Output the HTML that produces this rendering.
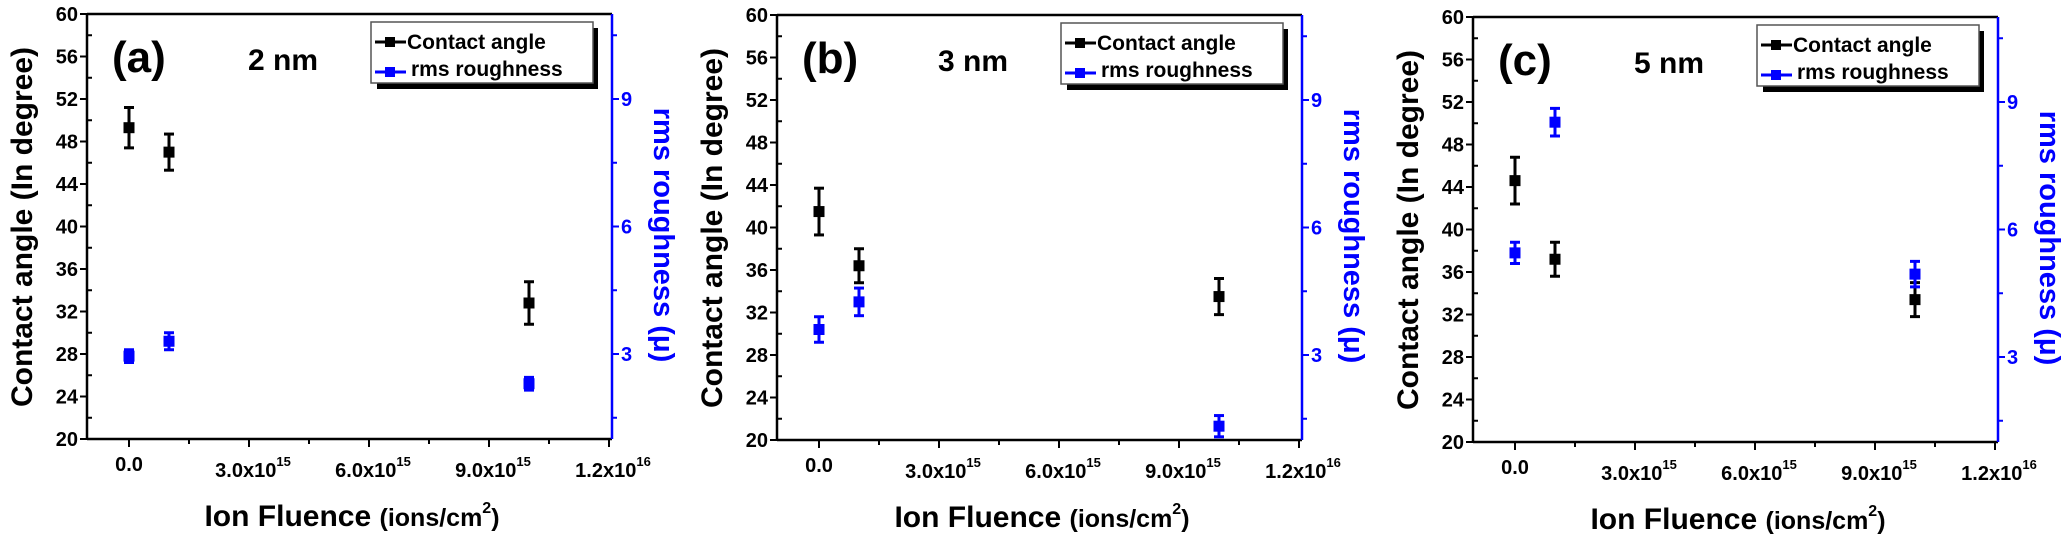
<!DOCTYPE html>
<html><head><meta charset="utf-8"><style>
html,body{margin:0;padding:0;background:#fff;}
svg{display:block;}
text{font-family:"Liberation Sans Narrow","Liberation Sans",sans-serif;font-weight:bold;}
</style></head><body>
<svg id="s" width="2070" height="542" xmlns="http://www.w3.org/2000/svg"></svg>
<script>
const S=document.getElementById('s');
let h='';
const panels=[
 {ox:0,oy:0,lab:'(a)',nm:'2 nm',
  k:[[0,49.3,1.9],[1,47.0,1.7],[10,32.8,2.0]],
  b:[[0,27.8,0.6],[1,29.2,0.8],[10,25.2,0.6]]},
 {ox:690,oy:1,lab:'(b)',nm:'3 nm',
  k:[[0,41.5,2.2],[1,36.4,1.6],[10,33.5,1.7]],
  b:[[0,30.4,1.2],[1,33.0,1.3],[10,21.3,1.0]]},
 {ox:1386,oy:3,lab:'(c)',nm:'5 nm',
  k:[[0,44.6,2.2],[1,37.2,1.6],[10,33.4,1.6]],
  b:[[0,37.8,1.0],[1,50.1,1.3],[10,35.8,1.2]]}
];
const L=87,R=612,T=14,B=439;
const X=v=>129+v*40;
const Y=a=>B-(a-20)*10.625;
function err(x,y,e,c){
 let s='';
 s+=`<line x1="${x}" y1="${Y(y-e)}" x2="${x}" y2="${Y(y+e)}" stroke="${c}" stroke-width="3"/>`;
 s+=`<line x1="${x-5}" y1="${Y(y+e)}" x2="${x+5}" y2="${Y(y+e)}" stroke="${c}" stroke-width="3"/>`;
 s+=`<line x1="${x-5}" y1="${Y(y-e)}" x2="${x+5}" y2="${Y(y-e)}" stroke="${c}" stroke-width="3"/>`;
 s+=`<rect x="${x-5.5}" y="${Y(y)-5.5}" width="11" height="11" fill="${c}"/>`;
 return s;
}
for(const p of panels){
 h+=`<g transform="translate(${p.ox},${p.oy})">`;
 // axes
 h+=`<line x1="${L}" y1="${T}" x2="${R}" y2="${T}" stroke="#000" stroke-width="2.5"/>`;
 h+=`<line x1="${L}" y1="${B}" x2="${R}" y2="${B}" stroke="#000" stroke-width="2.5"/>`;
 h+=`<line x1="${L}" y1="${T}" x2="${L}" y2="${B}" stroke="#000" stroke-width="2.5"/>`;
 h+=`<line x1="${R}" y1="${T}" x2="${R}" y2="${B}" stroke="#00f" stroke-width="2.5"/>`;
 // left ticks
 for(let a=20;a<=60;a+=2){
  const y=Y(a),maj=(a%4==0);
  h+=`<line x1="${L-(maj?7:0)}" y1="${y}" x2="${L+(maj?0:5)}" y2="${y}" stroke="#000" stroke-width="2"/>`;
  if(maj)h+=`<text x="${L-9}" y="${y+7}" font-size="20" text-anchor="end">${a}</text>`;
 }
 // right ticks: rms 1..11
 for(let r=1.5;r<=11;r+=1.5){
  const y=Y(28+(r-3)*4),maj=(Math.abs(r%3)<0.01);
  h+=`<line x1="${R}" y1="${y}" x2="${R+(maj?7:5)}" y2="${y}" stroke="#00f" stroke-width="2"/>`;
  if(maj)h+=`<text x="${R+9}" y="${y+7}" font-size="20" fill="#00f">${r}</text>`;
 }
 // x ticks
 for(let i=0;i<=8;i++){
  const v=i*1.5,x=X(v),maj=(i%2==0);
  h+=`<line x1="${x}" y1="${B}" x2="${x}" y2="${B+(maj?8:5)}" stroke="#000" stroke-width="2"/>`;
 }
 h+=`<text x="${X(0)}" y="${B+32}" font-size="20" text-anchor="middle">0.0</text>`;
 const xl=[[3,'3.0x10','15'],[6,'6.0x10','15'],[9,'9.0x10','15'],[12,'1.2x10','16']];
 for(const [v,t,e] of xl){
  h+=`<text x="${X(v)+4}" y="${B+38}" font-size="20" text-anchor="middle">${t}<tspan font-size="13" dy="-11">${e}</tspan></text>`;
 }
 // titles
 h+=`<text transform="translate(32,227) rotate(-90)" font-size="30" text-anchor="middle">Contact angle (In degree)</text>`;
 h+=`<text transform="translate(654,235) rotate(90)" font-size="29" text-anchor="middle" fill="#00f">rms roughness (μ)</text>`;
 h+=`<text x="352" y="526" font-size="30" text-anchor="middle">Ion Fluence <tspan font-size="25">(ions/cm</tspan><tspan font-size="16" dy="-13">2</tspan><tspan font-size="25" dy="13">)</tspan></text>`;
 h+=`<text x="112" y="72" font-size="44">${p.lab}</text>`;
 h+=`<text x="248" y="70" font-size="30">${p.nm}</text>`;
 // legend
 h+=`<rect x="377" y="28" width="221" height="61" fill="#000"/>`;
 h+=`<rect x="371" y="22" width="222" height="61" fill="#fff" stroke="#555" stroke-width="1.5"/>`;
 h+=`<line x1="375" y1="42" x2="406" y2="42" stroke="#000" stroke-width="3"/><rect x="385" y="37" width="10" height="10" fill="#000"/>`;
 h+=`<text x="407" y="49" font-size="21">Contact angle</text>`;
 h+=`<line x1="375" y1="72" x2="406" y2="72" stroke="#00f" stroke-width="3"/><rect x="385" y="67" width="10" height="10" fill="#00f"/>`;
 h+=`<text x="411" y="76" font-size="21">rms roughness</text>`;
 // data
 for(const [x,y,e] of p.k)h+=err(X(x),y,e,'#000');
 for(const [x,y,e] of p.b)h+=err(X(x),y,e,'#00f');
 h+='</g>';
}
S.innerHTML=h;
</script>
</body></html>
